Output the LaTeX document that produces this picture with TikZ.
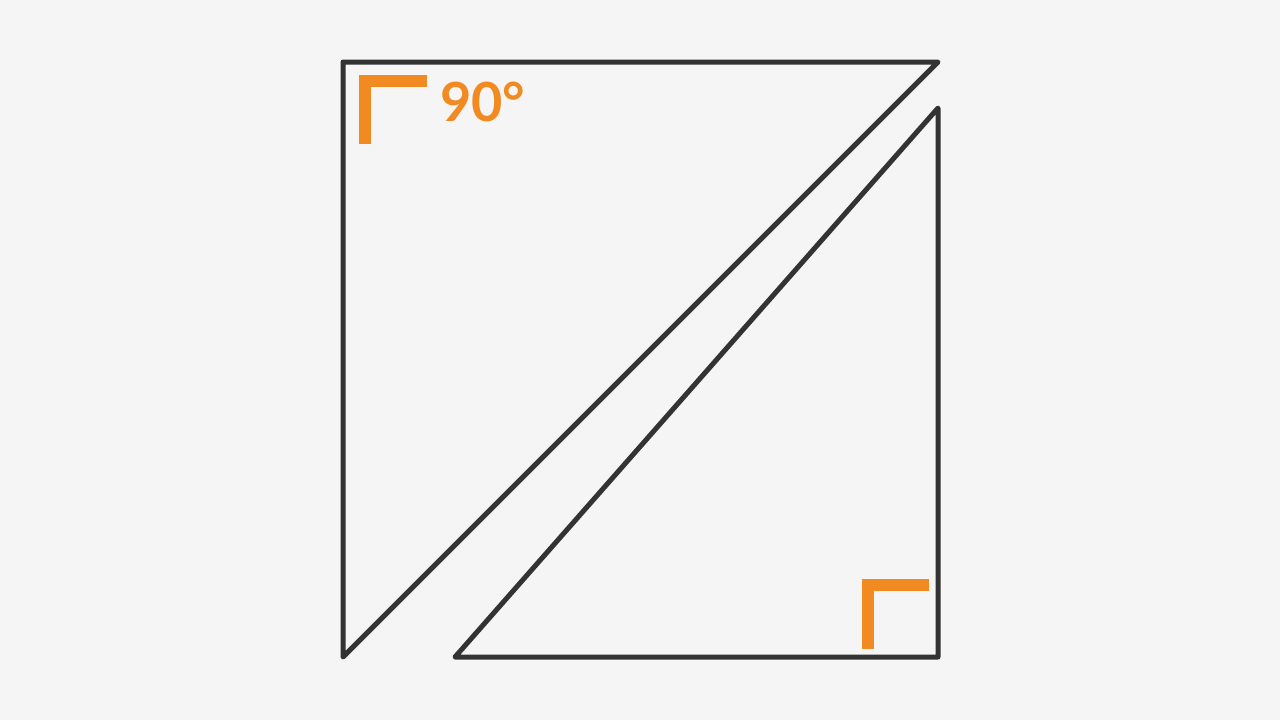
\documentclass[tikz,border=0pt]{standalone}
\usepackage{fontspec}
\setmainfont{Lato}
\definecolor{bgcol}{HTML}{F5F5F5}
\definecolor{edgecol}{HTML}{333333}
\definecolor{markcol}{HTML}{F28A22}
\begin{document}
\begin{tikzpicture}[x=0.5pt,y=-0.5pt,
    edge/.style={draw=edgecol,line width=2.5pt,line join=round},
    rightmark/.style={draw=markcol,line width=6pt}]
    \fill[bgcol] (0,0) rectangle (1280,720);
    \useasboundingbox (0,0) rectangle (1280,720);
    %% upper left triangle
    \draw[edge] (343,62) -- (938,62) -- (343,657) -- cycle;
    %% lower right triangle
    \draw[edge] (938,108) -- (938,657) -- (455,657) -- cycle;
    %% right angle marks
    \draw[rightmark] (365,144) -- (365,81) -- (427,81);
    \draw[rightmark] (868,649) -- (868,585) -- (929,585);
    \node[text=markcol,font=\bfseries\fontsize{27}{27}\selectfont,anchor=west] (angle) at (433,102) {90°};
\end{tikzpicture}
\end{document}
